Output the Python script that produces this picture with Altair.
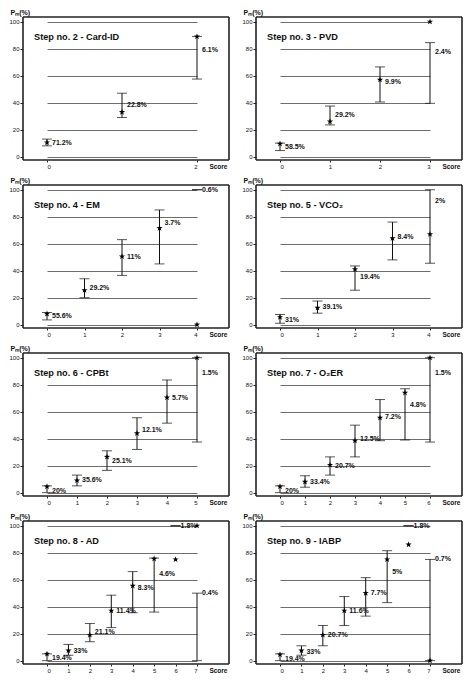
import altair as alt
import pandas as pd

TITLES = ["Step no. 2  -  Card-ID", "Step no. 3  -  PVD", "Step no. 4  -  EM",
          "Step no. 5  -  VCO\u2082", "Step no. 6  -  CPBt", "Step no. 7  -  O\u2082ER",
          "Step no. 8  -  AD", "Step no. 9  -  IABP"]
MAX_SCORE = [2, 3, 4, 4, 5, 6, 7, 7]

STAR_Y = [
    [10.5, 33, 89],
    [9.5, 26, 57, 100],
    [8, 25.5, 50.5, 71.5, 0],
    [5.5, 12.5, 41, 64, 67],
    [4.5, 9, 26.5, 44, 70.5, 100],
    [4.5, 8, 20.5, 38.5, 55.5, 74, 100],
    [5, 7.5, 19, 37, 55.5, 75.5, 75, 100],
    [4.5, 7.5, 19, 37, 50, 75, 86, 0],
]
BAR_LO = [
    [8, 29, 57.5],
    [4.5, 23.5, 40.5, 39.5],
    [3.5, 20, 36.5, 45, 100],
    [1, 8.5, 25.5, 48, 45.5],
    [0, 5, 16.5, 32, 51.5, 37.5],
    [0, 4, 13, 26.5, 38.5, 39, 37.5],
    [0, 4, 14, 24.5, 35.5, 36, 100, 0],
    [0, 4, 11, 26, 33, 43, 100, 0],
]
BAR_HI = [
    [13, 47, 89],
    [10, 37.5, 66.5, 84.5],
    [9, 34, 63, 85, 100],
    [7.5, 17.5, 43.5, 76, 100],
    [5, 13, 31, 55.5, 83.5, 100],
    [5, 12.5, 26.5, 50, 69, 77, 100],
    [5, 12, 27.5, 48.5, 66, 76, 100, 50],
    [5, 11, 26, 47.5, 61.5, 81.5, 100, 75],
]
LABEL_Y = [
    [10, 38, 79],
    [7, 30.5, 55, 77.5],
    [6.5, 27, 50.5, 75.5, 100],
    [3.5, 13, 35, 65, 92],
    [1, 9, 23.5, 46.5, 70.5, 88.5],
    [1, 8, 20, 39.5, 56, 65, 88.5],
    [2, 7, 21, 37, 53.5, 64, 100, 50],
    [1.5, 6.5, 19, 37, 50, 66, 100, 75],
]
LABELS = [
    ["71.2%", "22.8%", "6.1%"],
    ["58.5%", "29.2%", "9.9%", "2.4%"],
    ["55.6%", "29.2%", "11%", "3.7%", "0.6%"],
    ["31%", "39.1%", "19.4%", "8.4%", "2%"],
    ["20%", "35.6%", "25.1%", "12.1%", "5.7%", "1.5%"],
    ["20%", "33.4%", "20.7%", "12.5%", "7.2%", "4.8%", "1.5%"],
    ["19.4%", "33%", "21.1%", "11.4%", "8.3%", "4.6%", "1.8%", "0.4%"],
    ["19.4%", "33%", "20.7%", "11.6%", "7.7%", "5%", "1.8%", "0.7%"],
]
Y_TICKS = [0, 20, 40, 60, 80, 100]
TITLE_Y = 89

W, H = 206, 143
FONT = "Liberation Sans"
STAR = ("M0,-1L0.236,-0.325L0.951,-0.309L0.382,0.124L0.588,0.809L0,0.4"
        "L-0.588,0.809L-0.382,0.124L-0.951,-0.309L-0.236,-0.325Z")


def panel(i):
    m = MAX_SCORE[i]
    xs_vals = list(range(m + 1))
    xs = alt.Scale(domain=[0, m], range=[24, W - 32], nice=False, zero=False)
    ys = alt.Scale(domain=[-2.5, 103.5], nice=False, zero=False)
    xaxis = alt.Axis(values=xs_vals, format="d", grid=False, domain=False, tickSize=2,
                     tickColor="#222", labelFontSize=6, labelPadding=1, labelColor="#111",
                     labelFont=FONT, title="Score", titleX=W - 2, titleY=3,
                     titleAlign="right", titleBaseline="top", titleFontSize=6.5,
                     titleFontWeight="bold", titleFont=FONT, titleColor="#111")
    yaxis = alt.Axis(values=Y_TICKS, grid=True, gridColor="#6e6e6e", gridWidth=1,
                     domain=False, tickSize=3, tickColor="#222", labelFontSize=6,
                     labelPadding=1, labelColor="#111", labelFont=FONT,
                     title="P\u2098(%)", titleAngle=0, titleX=-13, titleY=-2,
                     titleAlign="left", titleBaseline="bottom", titleFontSize=7,
                     titleFontWeight="bold", titleFont=FONT, titleColor="#111")

    bars = pd.DataFrame({"x": xs_vals, "lo": BAR_LO[i], "hi": BAR_HI[i]})
    caps = pd.DataFrame({"x": xs_vals + xs_vals, "y": BAR_LO[i] + BAR_HI[i]})
    stars = pd.DataFrame({"x": xs_vals, "y": STAR_Y[i]})
    labs = pd.DataFrame({"x": xs_vals, "y": LABEL_Y[i], "t": LABELS[i]})
    ttl = pd.DataFrame({"y": [TITLE_Y], "t": [TITLES[i]]})

    X = lambda f: alt.X(f, type="quantitative", scale=xs, axis=xaxis)
    Y = lambda f: alt.Y(f, type="quantitative", scale=ys, axis=yaxis)

    base = alt.Chart(ttl)
    fr_style = dict(color="#222", strokeWidth=1.6)
    f_top = base.mark_rule(**fr_style).encode(x=alt.value(0), x2=alt.value(W), y=alt.value(0))
    f_bot = base.mark_rule(**fr_style).encode(x=alt.value(0), x2=alt.value(W), y=alt.value(H))
    f_lef = base.mark_rule(**fr_style).encode(x=alt.value(0), y=alt.value(0), y2=alt.value(H))
    f_rig = base.mark_rule(**fr_style).encode(x=alt.value(W), y=alt.value(0), y2=alt.value(H))

    rules = alt.Chart(bars).mark_rule(color="#111", strokeWidth=1).encode(
        x=X("x"), y=Y("lo"), y2="hi")
    capm = alt.Chart(caps).mark_tick(orient="horizontal", size=10, thickness=1,
                                     color="#111").encode(x=X("x"), y=Y("y"))
    starm = alt.Chart(stars).mark_point(shape=STAR, filled=True, size=42, color="#000",
                                        opacity=1).encode(x=X("x"), y=Y("y"))
    labm = alt.Chart(labs).mark_text(align="left", baseline="middle", dx=5,
                                     fontSize=7, fontWeight="bold", font=FONT,
                                     color="#111").encode(x=X("x"), y=Y("y"), text="t")
    ttlm = alt.Chart(ttl).mark_text(align="left", baseline="middle", fontSize=9.2,
                                    fontWeight="bold", font=FONT, color="#111").encode(
        x=alt.value(11), y=Y("y"), text="t")
    return alt.layer(rules, capm, starm, labm, ttlm, f_top, f_bot, f_lef, f_rig).properties(
        width=W, height=H)


chart = alt.concat(*[panel(i) for i in range(8)], columns=2,
                   spacing={"row": 25, "column": 27}, bounds="flush").properties(
    padding=0).configure(
    font=FONT, background="white",
    view=alt.ViewConfig(stroke="transparent", strokeWidth=0))

chart.save("out.html", embed_options={"renderer": "svg", "actions": False})
